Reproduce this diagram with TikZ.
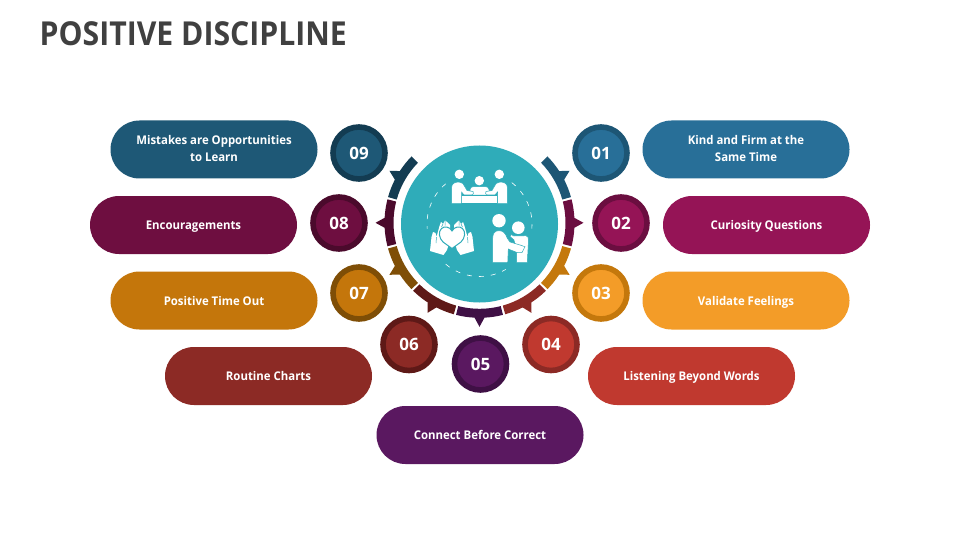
\documentclass[tikz,border=0pt]{standalone}
\usepackage{fontspec}
\setmainfont{Open Sans}
\newfontfamily\labelfont[FakeStretch=0.95]{Open Sans Bold}
\newfontfamily\titlefont[FakeStretch=0.915]{Open Sans Bold}
\usetikzlibrary{positioning}
\definecolor{tealc}{HTML}{2FACB9}
\definecolor{titlec}{HTML}{404040}
\definecolor{blueA}{HTML}{286F98}
\definecolor{blueB}{HTML}{1D5675}
\definecolor{navyA}{HTML}{1E5876}
\definecolor{navyB}{HTML}{133C52}
\definecolor{plumA}{HTML}{951456}
\definecolor{plumB}{HTML}{6B0E40}
\definecolor{wineA}{HTML}{6E0E40}
\definecolor{wineB}{HTML}{4B0A2C}
\definecolor{amberA}{HTML}{F39C28}
\definecolor{amberB}{HTML}{C4780C}
\definecolor{ochreA}{HTML}{C4760B}
\definecolor{ochreB}{HTML}{7F4E06}
\definecolor{redA}{HTML}{C0392F}
\definecolor{redB}{HTML}{8C2A25}
\definecolor{brickA}{HTML}{8C2A25}
\definecolor{brickB}{HTML}{5E1917}
\definecolor{purpleA}{HTML}{5A1860}
\definecolor{purpleB}{HTML}{3F1045}
\tikzstyle{pill} = [rectangle, rounded corners=28.9pt, minimum width=207pt, minimum height=58pt, inner sep=0pt, align=center, text=white, font=\labelfont\fontsize{12}{17}\selectfont, execute at begin node={\rule{0pt}{12.5pt}}, execute at end node={\rule[-3pt]{0pt}{3pt}}]
\tikzstyle{badge} = [circle, minimum size=52pt, inner sep=0pt, line width=5.6pt, text=white, font=\bfseries\fontsize{17}{17}\selectfont]
\tikzstyle{hub} = [circle, minimum size=157pt, inner sep=0pt, fill=tealc]
\tikzstyle{icon} = [fill=white, draw=tealc, line width=0.5pt]
\tikzstyle{gapline} = [draw=tealc, line width=0.5pt]
\tikzstyle{dashedarc} = [white, line width=0.6pt, dash pattern=on 5pt off 7pt]
\newcommand{\ringpiece}[2]{\fill[#1,rotate=#2] (14.3:86) arc (14.3:-14.3:86) -- (-14.3:95) arc (-14.3:-3:95) -- (0:104) -- (3:95) arc (3:14.3:95) -- cycle;}
\begin{document}
\begin{tikzpicture}[x=1pt,y=-1pt]
    \useasboundingbox (0,0) rectangle (960,540);
    \fill[white] (0,0) rectangle (960,540);

    \node at (39.5,46) [anchor=base west, inner sep=0pt, text=titlec, font=\titlefont\fontsize{33}{33}\selectfont] (title) {POSITIVE DISCIPLINE};

    \node at (746,149.5) [pill, fill=blueA] (pill1) {Kind and Firm at the\\Same Time};
    \node at (766.5,225) [pill, fill=plumA] (pill2) {Curiosity Questions};
    \node at (746,300.5) [pill, fill=amberA] (pill3) {Validate Feelings};
    \node at (691.5,376) [pill, fill=redA] (pill4) {Listening Beyond Words};
    \node at (480,435) [pill, fill=purpleA] (pill5) {Connect Before Correct};
    \node at (268.5,376) [pill, fill=brickA] (pill6) {Routine Charts};
    \node at (214,300.5) [pill, fill=ochreA] (pill7) {Positive Time Out};
    \node at (193.5,225) [pill, fill=wineA] (pill8) {Encouragements};
    \node at (214,149.5) [pill, fill=navyA] (pill9) {Mistakes are Opportunities\\to Learn};

    \node at (601,153) [badge, fill=blueA, draw=blueB] (badge1) {01};
    \node at (621,223) [badge, fill=plumA, draw=plumB] (badge2) {02};
    \node at (601,293) [badge, fill=amberA, draw=amberB] (badge3) {03};
    \node at (551,344.5) [badge, fill=redA, draw=redB] (badge4) {04};
    \node at (480.5,364) [badge, fill=purpleA, draw=purpleB] (badge5) {05};
    \node at (409,344.5) [badge, fill=brickA, draw=brickB] (badge6) {06};
    \node at (359,293) [badge, fill=ochreA, draw=ochreB] (badge7) {07};
    \node at (339,223) [badge, fill=wineA, draw=wineB] (badge8) {08};
    \node at (359,153) [badge, fill=navyA, draw=navyB] (badge9) {09};

    \node at (479.5,224) [hub] (hub) {};

    % ring pieces
    \begin{scope}[shift={(479.5,222.8)},y=1pt]
    \ringpiece{blueB}{30}
    \ringpiece{plumB}{0}
    \ringpiece{amberB}{-30}
    \ringpiece{redB}{-60}
    \ringpiece{purpleB}{-90}
    \ringpiece{brickB}{-120}
    \ringpiece{ochreB}{-150}
    \ringpiece{wineB}{-180}
    \ringpiece{navyB}{-210}
    \end{scope}

    % dashed arcs round the icons
    \begin{scope}[shift={(479.5,224)},y=1pt]
    \draw[dashedarc] (130:52.5) arc (130:185:52.5);
    \draw[dashedarc] (52:52.5) arc (52:-5:52.5);
    \draw[dashedarc] (230:52.5) arc (230:300:52.5);
    \end{scope}

    % people at the table
    \fill[white] (459.3,174.3) circle (4.7);
    \fill[white] (479.3,180.7) circle (4.7);
    \fill[white] (499.3,174.3) circle (4.7);
    \draw[icon] (470,195) -- (470,189.5) .. controls (470,187.5) and (472,186.5) .. (474,186.5) -- (485,186.5) .. controls (487,186.5) and (489,187.5) .. (489,189.5) -- (489,195) -- cycle;
    \draw[icon] (461.5,195) rectangle (497.5,203.5);
    \draw[icon] (451.7,203.5) -- (451.7,187) .. controls (451.7,183.5) and (455,182) .. (459,182) .. controls (462,182) and (464,184) .. (465,187) -- (467,190.5) -- (473,191.5) .. controls (474,193) and (473.5,194.5) .. (472,194.8) -- (464,194.8) -- (461.5,192) -- (461.5,203.5) -- cycle;
    \draw[icon] (507.3,203.5) -- (507.3,187) .. controls (507.3,183.5) and (504,182) .. (500,182) .. controls (497,182) and (495,184) .. (494,187) -- (492,190.5) -- (486,191.5) .. controls (485,193) and (485.5,194.5) .. (487,194.8) -- (495,194.8) -- (497.5,192) -- (497.5,203.5) -- cycle;

    % hands and heart
    \fill[white] (430,251) -- (431.5,237) -- (433,232) -- (435.5,233) -- (436.5,237) -- (439.5,226) -- (441,222) -- (443,224) -- (445,220.5) -- (447,222) -- (450,225) -- (450,240) -- (447,250) -- (443.5,255) -- cycle;
    \fill[white] (474,251) -- (472.5,237) -- (471,232) -- (468.5,233) -- (467.5,237) -- (464.5,226) -- (463,222) -- (461,224) -- (459,220.5) -- (457,222) -- (454,225) -- (454,240) -- (457,250) -- (460.5,255) -- cycle;
    \draw[gapline] (443,224) -- (441.5,227) (445,221) -- (445,225.5) (436.5,237) -- (436,243);
    \draw[gapline] (461,224) -- (462.5,227) (459,221) -- (459,225.5) (467.5,237) -- (468,243);
    \draw[fill=white, draw=tealc, line width=1pt] (452,231) .. controls (450,226.5) and (444,226) .. (441.5,228.5) .. controls (438,232) and (439,238) .. (443,242) -- (452,248.5) -- (461,242) .. controls (465,238) and (466,232) .. (462.5,228.5) .. controls (460,226) and (454,226.5) .. (452,231) -- cycle;

    % adult and child
    \fill[white] (499,220.7) circle (6.7);
    \fill[white] (518.3,227.7) circle (6.3);
    \draw[icon] (516.7,262.5) -- (516.7,252) -- (514,240) -- (510,236.5) -- (511,234.5) -- (514,236) -- (526,235.7) .. controls (528,236) and (528.5,238) .. (528.5,240) -- (527.3,262.5) -- cycle;
    \draw[icon] (492.7,262.5) -- (492.7,238) .. controls (492.7,233) and (495,230.7) .. (499,230.7) .. controls (503,230.7) and (505.5,233) .. (507.3,238.3) -- (510,242) -- (520,245) -- (525,246.7) -- (522,252.5) -- (517,252.5) -- (508.3,249) -- (507.7,262.5) -- cycle;
\end{tikzpicture}
\end{document}
